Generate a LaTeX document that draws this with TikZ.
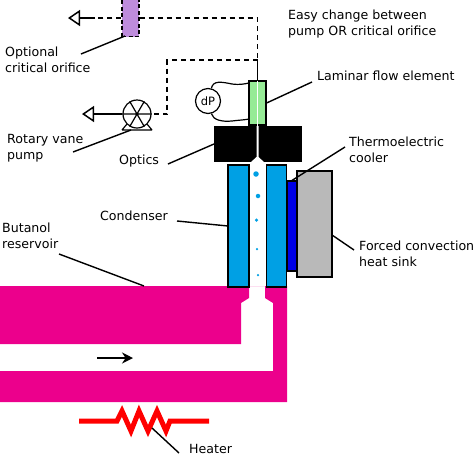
\documentclass[tikz,border=0pt]{standalone}
\usepackage{fontspec}
\setmainfont{DejaVu Sans}
\usetikzlibrary{arrows.meta}

\definecolor{reservoir}{RGB}{236,0,140}
\definecolor{dropblue}{RGB}{0,160,228}
\definecolor{coolerblue}{RGB}{0,0,230}
\definecolor{sinkgray}{RGB}{185,185,185}
\definecolor{lfegreen}{RGB}{150,235,150}
\definecolor{orificepurple}{RGB}{190,140,220}

\begin{document}
\begin{tikzpicture}[
    x=1pt, y=-1pt,
    font=\fontsize{12.6}{16}\selectfont,
    lbl/.style={align=left, anchor=west, inner sep=0pt},
    leader/.style={draw=black, line width=1.4pt},
    duct/.style={draw=black, line width=1.3pt, dash pattern=on 5pt off 4pt},
    outlet/.style={draw=black, line width=1.6pt, -{Triangle[open, length=12pt, width=16pt, line width=1.5pt]}},
    part/.style={draw=black, line width=1.2pt},
    drop/.style={circle, fill=dropblue, draw=none, inner sep=0pt}
]
\useasboundingbox (0,0) rectangle (474,456);

% ---------------- Reservoir ----------------
\fill[reservoir] (0,286) -- (287,286) -- (287,402) -- (0,402) -- (0,371) -- (273,371)
    -- (273,303) -- (265,298) -- (265,286) -- (249,286) -- (249,298) -- (241,303)
    -- (241,344) -- (0,344) -- cycle;
\coordinate (flow_a) at (97,358);
\coordinate (flow_b) at (133,358);
\draw[line width=1.4pt, -{Stealth[length=11pt, width=11pt]}] (flow_a) -- (flow_b);

% ---------------- Condenser, cooler, heat sink ----------------
\node[part, fill=dropblue, minimum width=21pt, minimum height=122pt, inner sep=0pt] (cond_l) at (238.5,226) {};
\node[part, fill=dropblue, minimum width=20pt, minimum height=122pt, inner sep=0pt] (cond_r) at (276.5,226) {};
\node[part, fill=coolerblue, minimum width=10pt, minimum height=90pt, inner sep=0pt] (cooler) at (292,226) {};
\node[part, fill=sinkgray, minimum width=35pt, minimum height=106pt, inner sep=0pt] (sink) at (314.5,224) {};
\node[drop, minimum size=5.5pt] (d1) at (256,174) {};
\node[drop, minimum size=4.5pt] (d2) at (258,196) {};
\node[drop, minimum size=3.5pt] (d3) at (256.5,220) {};
\node[drop, minimum size=2.5pt] (d4) at (257,249) {};
\node[drop, minimum size=2.5pt] (d5) at (258,275) {};

% ---------------- Optics and flow element ----------------
\fill[black] (214,126) rectangle (302,162);
\fill[white] (256.5,126) -- (258.5,126) -- (258.5,157) -- (264,162) -- (251,162) -- (256.5,157) -- cycle;
\node[part, fill=lfegreen, minimum width=17pt, minimum height=44pt, inner sep=0pt] (lfe) at (257.5,103) {};
\draw[white, line width=1.6pt] (257.5,81) -- (257.5,126);
\node[part, circle, fill=white, minimum size=25pt, inner sep=0pt] (dp) at (208,101) {\fontsize{11.5}{14}\selectfont dP};
\coordinate (wire_top) at (249,83);
\coordinate (wire_bot) at (249,119);
\draw[line width=1.2pt] (dp.75) .. controls (213,80) and (222,82) .. (232,84) .. controls (240,85) and (244,84) .. (wire_top);
\draw[line width=1.2pt] (dp.-75) .. controls (213,120) and (222,122) .. (232,121) .. controls (240,120) and (244,120) .. (wire_bot);

% ---------------- Pump ----------------
\node[part, circle, minimum size=28pt, inner sep=0pt] (pump) at (137,114) {};
\draw[line width=1.2pt] (pump.west) -- (pump.east) (pump.60) -- (pump.240) (pump.120) -- (pump.300);
\draw[line width=1.2pt] (122,130) -- (152,130) (122,130) -- (127,124) (152,130) -- (147,124);
\coordinate (pump_out) at (82,114);
\draw[outlet] (pump.west) -- (pump_out);

% ---------------- Orifice and ducts ----------------
\coordinate (corner_a) at (167,60);
\coordinate (corner_b) at (167,114);
\coordinate (tee) at (257.5,60);
\coordinate (top_corner) at (257.5,18);
\coordinate (orifice_out) at (68,18);
\coordinate (orifice_stub) at (95,18);
\node[draw=black, line width=1.3pt, dash pattern=on 4pt off 2.5pt, fill=orificepurple, minimum width=17pt, minimum height=37pt, inner sep=0pt] (orifice) at (130.5,18) {};
\draw[duct] (orifice.east) -- (top_corner) -- (tee);
\draw[duct] (tee) -- (corner_a) -- (corner_b) -- (pump.east);
\draw[duct] (orifice.west) -- (orifice_stub);
\draw[outlet] (orifice_stub) -- (orifice_out);
\draw[line width=1.3pt] (tee) -- (lfe.north);

% ---------------- Heater ----------------
\draw[red, line width=5pt, miter limit=10] (79,421) -- (117,421) -- (122,411) -- (131,431) -- (139,411) -- (148,431) -- (157,411) -- (166,431) -- (170,421) -- (209,421);
\coordinate (heater_tip) at (152,428);

% ---------------- Labels ----------------
\node[lbl] (easy_lbl) at (288,24) {Easy change between\\pump OR critical orifice};
\node[lbl] (orifice_lbl) at (5,60) {Optional\\critical orifice};
\node[lbl] (lfe_lbl) at (317,76) {Laminar flow element};
\node[lbl] (pump_lbl) at (7,148) {Rotary vane\\pump};
\node[lbl] (optics_lbl) at (119,161) {Optics};
\node[lbl] (tec_lbl) at (349,150) {Thermoelectric\\cooler};
\node[lbl] (cond_lbl) at (100,216) {Condenser};
\node[lbl] (res_lbl) at (2,236) {Butanol\\reservoir};
\node[lbl] (sink_lbl) at (359,254) {Forced convection\\heat sink};
\node[lbl] (heater_lbl) at (189,449) {Heater};

% ---------------- Leaders ----------------
\coordinate (orifice_tail) at (81,54);
\coordinate (pump_tail) at (73,152);
\coordinate (optics_tail) at (168,164);
\coordinate (lfe_tail) at (312,82);
\coordinate (tec_tail) at (345,147);
\coordinate (cond_tail) at (177,221);
\coordinate (res_tail) at (59,254);
\coordinate (sink_tail) at (354,250);
\coordinate (heater_tail) at (179,453);
\draw[leader] (orifice_tail) -- (125,36);
\draw[leader] (pump_tail) -- (131,130);
\draw[leader] (optics_tail) -- (214,144);
\draw[leader] (lfe_tail) -- (lfe.east);
\draw[leader] (tec_tail) -- (cooler.north);
\draw[leader] (cond_tail) -- (228,226);
\draw[leader] (sink_tail) -- (332,235);
\draw[leader] (res_tail) -- (144,286);
\draw[leader] (heater_tail) -- (heater_tip);
\end{tikzpicture}
\end{document}
